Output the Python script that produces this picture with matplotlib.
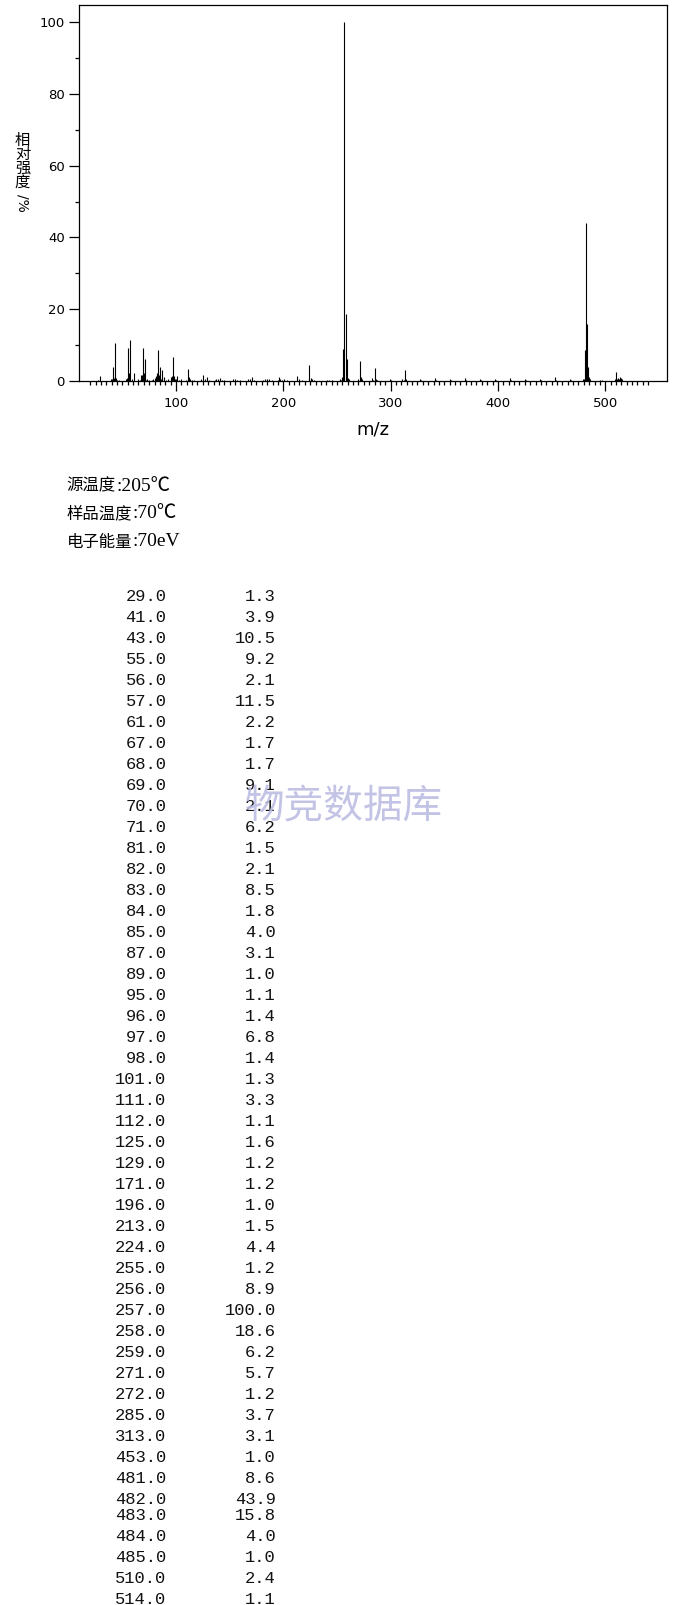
import matplotlib
matplotlib.use("Agg")
import matplotlib.pyplot as plt
from matplotlib.ticker import FixedLocator

# ---- data: listed peaks (m/z, relative intensity %) ----
mz = [29, 41, 43, 55, 56, 57, 61, 67, 68, 69, 70, 71, 81, 82, 83, 84, 85, 87, 89,
      95, 96, 97, 98, 101, 111, 112, 125, 129, 171, 196, 213, 224, 255, 256, 257,
      258, 259, 271, 272, 285, 313, 453, 481, 482, 483, 484, 485, 510, 514]
intensity = [1.3, 3.9, 10.5, 9.2, 2.1, 11.5, 2.2, 1.7, 1.7, 9.1, 2.1, 6.2, 1.5, 2.1,
             8.5, 1.8, 4.0, 3.1, 1.0, 1.1, 1.4, 6.8, 1.4, 1.3, 3.3, 1.1, 1.6, 1.2,
             1.2, 1.0, 1.5, 4.4, 1.2, 8.9, 100.0, 18.6, 6.2, 5.7, 1.2, 3.7, 3.1,
             1.0, 8.6, 43.9, 15.8, 4.0, 1.0, 2.4, 1.1]

# ---- small (<1 %) peaks estimated from the plotted spectrum ----
minor_mz = [27, 39, 40, 42, 44, 45, 47, 53, 54, 59, 65, 66, 72, 73, 75, 78, 79, 80,
            86, 91, 93, 99, 100, 103, 105, 109, 113, 115, 117, 123, 127, 131, 136,
            137, 139, 141, 143, 145, 153, 155, 157, 160, 167, 169, 173, 181, 183,
            185, 187, 189, 195, 197, 199, 201, 203, 215, 217, 226, 227, 229, 241,
            243, 245, 253, 254, 260, 261, 270, 273, 283, 284, 286, 287, 299, 300,
            311, 312, 314, 327, 328, 341, 342, 355, 356, 369, 370, 383, 384, 397,
            398, 411, 412, 425, 426, 439, 440, 454, 467, 468, 479, 480, 486, 495,
            497, 509, 511, 512, 513, 515, 516]
minor_int = [0.4, 0.6, 0.5, 0.8, 0.9, 0.4, 0.3, 0.5, 0.7, 0.6, 0.5, 0.4, 0.4, 0.5,
             0.3, 0.4, 0.6, 0.7, 0.5, 0.4, 0.6, 0.6, 0.5, 0.4, 0.5, 0.3, 0.6, 0.4,
             0.3, 0.5, 0.5, 0.4, 0.3, 0.5, 0.6, 0.7, 0.4, 0.3, 0.5, 0.6, 0.4, 0.3,
             0.5, 0.6, 0.4, 0.4, 0.5, 0.6, 0.5, 0.3, 0.4, 0.5, 0.4, 0.6, 0.3, 0.5,
             0.4, 0.7, 0.6, 0.4, 0.3, 0.4, 0.3, 0.5, 0.4, 0.9, 0.5, 0.6, 0.5, 0.7,
             0.4, 0.6, 0.3, 0.5, 0.3, 0.6, 0.4, 0.5, 0.6, 0.3, 0.7, 0.3, 0.6, 0.3,
             0.7, 0.3, 0.6, 0.3, 0.6, 0.3, 0.7, 0.3, 0.6, 0.3, 0.6, 0.3, 0.4, 0.6,
             0.3, 0.5, 0.6, 0.6, 0.4, 0.4, 0.6, 0.5, 0.9, 0.5, 0.7, 0.6]

x_major = [100, 200, 300, 400, 500]
x_minor = [v for v in range(20, 545, 5) if v % 100 != 0]
y_major = [0, 20, 40, 60, 80, 100]
y_minor = [10, 30, 50, 70, 90]

info_labels = ["源温度", "样品温度", "电子能量"]
info_values = [":205℃", ":70℃", ":70eV"]
ylab_chars = ["相", "对", "强", "度"]
watermark = "物竞数据库"

W, H = 687, 1605
fig = plt.figure(figsize=(W / 100, H / 100), dpi=100)
fig.patch.set_facecolor("white")


def fx(x):
    return x / W


def fy(y):
    return 1 - y / H


ax = fig.add_axes([fx(79.3), fy(381), fx(667.3) - fx(79.3), fy(5.3) - fy(381)])
ax.vlines(minor_mz, 0, minor_int, color="black", linewidth=0.8)
ax.vlines(mz, 0, intensity, color="black", linewidth=0.8)
ax.set_xlim(9.9, 557.8)
ax.set_ylim(0, 104.7)

for s in ax.spines.values():
    s.set_linewidth(0.9)
    s.set_color("black")

ax.xaxis.set_major_locator(FixedLocator(x_major))
ax.xaxis.set_minor_locator(FixedLocator(x_minor))
ax.yaxis.set_major_locator(FixedLocator(y_major))
ax.yaxis.set_minor_locator(FixedLocator(y_minor))
ax.tick_params(axis="both", which="major", direction="out", length=7.3,
               width=0.9, labelsize=9.5, colors="black")
ax.tick_params(axis="both", which="minor", direction="out", length=3.2, width=0.9)
ax.tick_params(axis="x", which="major", pad=4)
ax.tick_params(axis="y", which="major", pad=3)
for lab in ax.get_xticklabels() + ax.get_yticklabels():
    lab.set_fontfamily("DejaVu Sans")

ax.set_xlabel("m/z", fontsize=13, labelpad=8, family="DejaVu Sans")

# vertical y-label: stacked CJK characters then rotated "/%"
for i, ch in enumerate(ylab_chars):
    fig.text(fx(22.5), fy(140 + i * 14.0), ch, ha="center", va="center",
             fontsize=11, family=["Noto Sans CJK SC", "DejaVu Sans"],
             fontweight="medium")
fig.text(fx(22.5), fy(203), "/%", ha="center", va="center", rotation=-90,
         fontsize=10, family=["DejaVu Sans"])

# info lines: CJK label then serif value
renderer = fig.canvas.get_renderer()
for i, (lab, val) in enumerate(zip(info_labels, info_values)):
    y = fy(486 + i * 28)
    t = fig.text(fx(66.5), y, lab, ha="left", va="center", fontsize=11.8,
                 family=["Noto Sans CJK SC"], fontweight="medium")
    bb = t.get_window_extent(renderer=renderer)
    fig.text(bb.x1 / W + fx(0.5), y, val, ha="left", va="center", fontsize=14,
             family=["Liberation Serif", "Noto Sans CJK SC"])

# peak table (rows 483 and later sit slightly higher, as in the source)
row0, step = 596.7, 21.0
for i, (m, v) in enumerate(zip(mz, intensity)):
    y = row0 + i * step - (5.0 if i >= 44 else 0.0)
    fig.text(fx(166.5), fy(y), f"{m:.1f}", ha="right", va="center",
             fontsize=12.3, family="Liberation Mono", color="#111111")
    fig.text(fx(276), fy(y), f"{v:.1f}", ha="right", va="center",
             fontsize=12.3, family="Liberation Mono", color="#111111")

# watermark
fig.text(fx(344), fy(806), watermark, ha="center", va="center", fontsize=28.5,
         family=["Noto Sans CJK SC"], color=(0.74, 0.74, 0.89), alpha=0.9)

fig.savefig("out.png", dpi=100, facecolor="white")
